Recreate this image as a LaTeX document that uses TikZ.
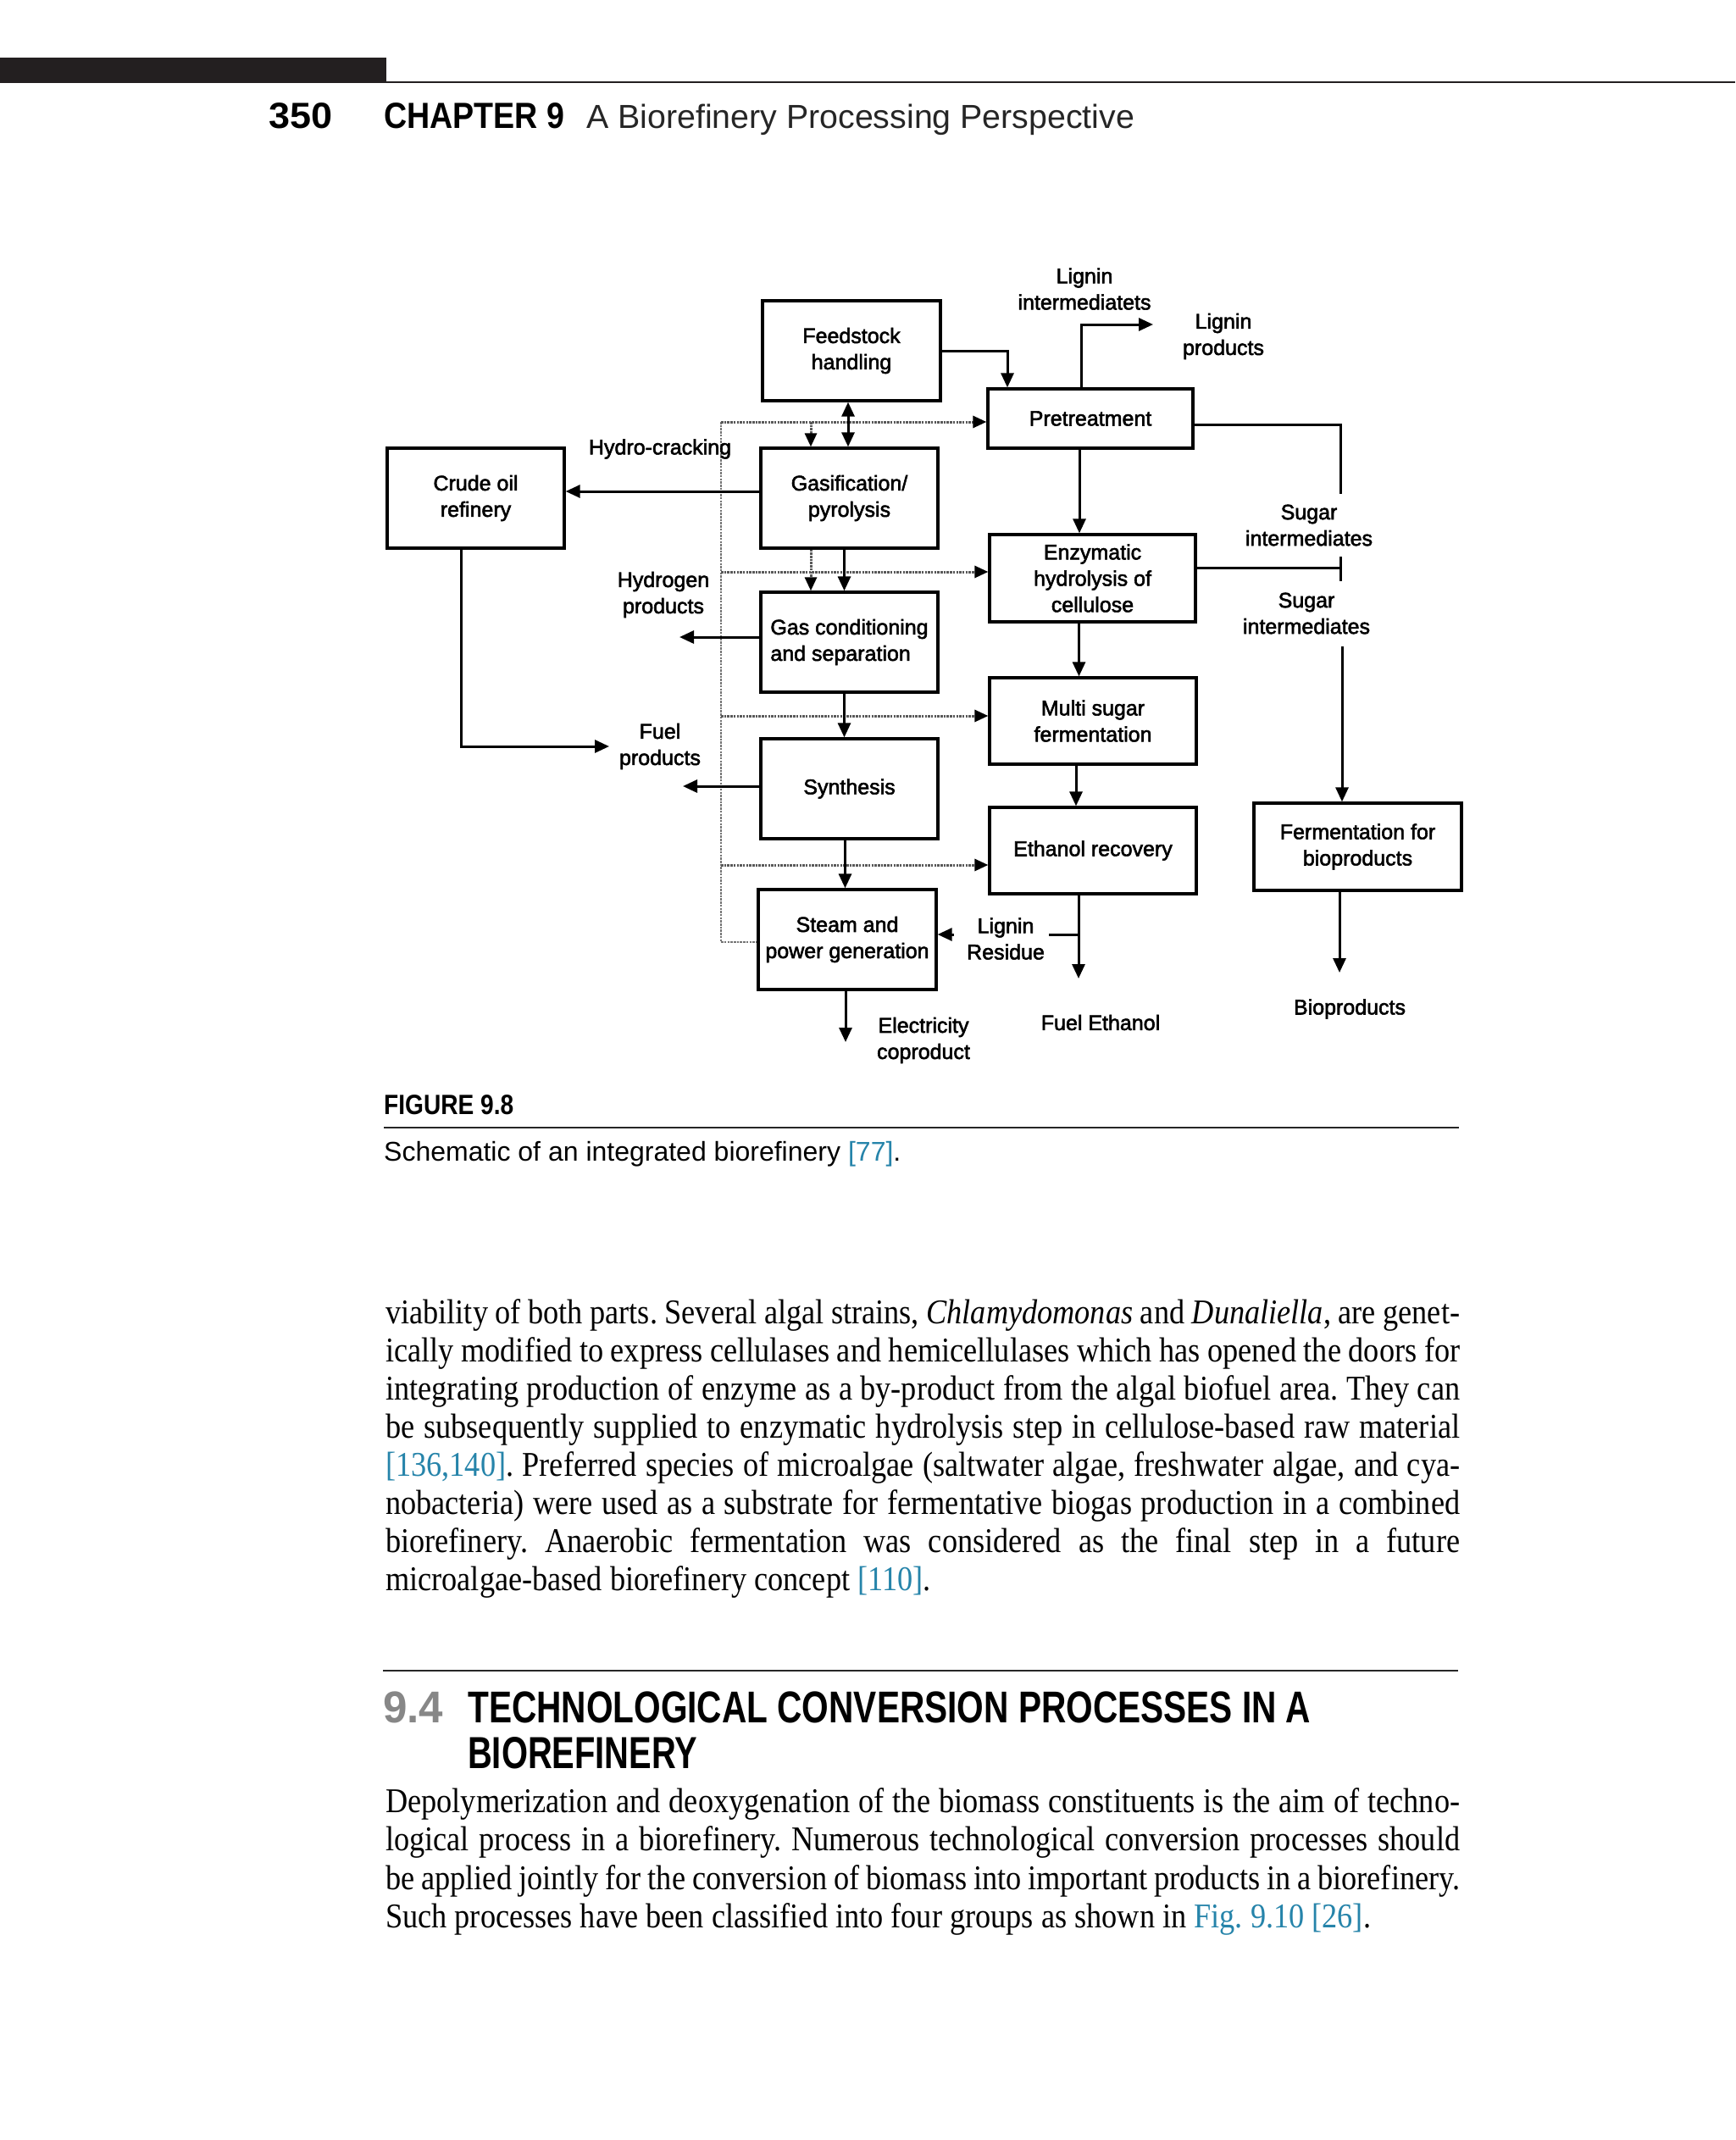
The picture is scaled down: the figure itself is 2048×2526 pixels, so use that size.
\documentclass[tikz,border=0pt]{standalone}
\usepackage{graphicx}
\usepackage{fontspec}
\setmainfont{Liberation Serif}
\setsansfont{Liberation Sans}
\newfontfamily\bodyfont[FakeStretch=0.885]{Liberation Serif}
\newfontfamily\dsans[FakeBold=2.2]{Liberation Sans}
\usetikzlibrary{arrows.meta,calc}
\definecolor{refblue}{RGB}{38,132,170}
\definecolor{inkbar}{RGB}{35,31,32}
\newcommand{\dfont}{\dsans\fontsize{25}{31}\selectfont}
\newcommand{\bfont}{\bodyfont\frenchspacing\fontsize{41}{45}\selectfont}
\newcommand{\jline}[1]{\makebox[1268pt][s]{#1}}
\begin{document}
\begin{tikzpicture}[x=1pt,y=-1pt,
  box/.style={draw, line width=3.3pt, rectangle, inner sep=0pt, align=center, font=\dfont},
  lbl/.style={align=center, font=\dfont, inner sep=0pt},
  arr/.style={line width=3pt, -{Triangle[length=17pt,width=15pt]}},
  darr/.style={line width=3pt, {Triangle[length=17pt,width=15pt]}-{Triangle[length=17pt,width=15pt]}},
  plain/.style={line width=3pt},
  util/.style={draw=black!65, line width=3pt, dash pattern=on 2.5pt off 1.2pt},
  utilv/.style={draw=black!55, line width=2.2pt, dash pattern=on 2.5pt off 1.2pt},
  utilarr/.style={util, -{Triangle[length=16pt,width=14pt,color=black]}},
  txt/.style={anchor=base west, inner sep=0pt, font=\bfont},
]
\useasboundingbox (0,0) rectangle (2048,2526);
\fill[white] (0,0) rectangle (2048,2526);

% running header
\fill[inkbar] (0,68) rectangle (456,98);
\draw[inkbar, line width=2.5pt] (456,97) -- (2048,97);
\node[anchor=base west, inner sep=0pt] (pg) at (317,152) {\resizebox{75pt}{30pt}{\sffamily\bfseries 350}};
\node[anchor=base west, inner sep=0pt] (ch) at (453,152) {\resizebox{213pt}{30pt}{\sffamily\bfseries CHAPTER 9}};
\node[anchor=base west, inner sep=0pt, text=black!85] (ttl) at (692,152) {\resizebox{647pt}{!}{\sffamily\fontsize{37}{37}\selectfont A Biorefinery Processing Perspective}};

% boxes
\node[box, minimum width=210pt, minimum height=118pt] (feed) at (1005,414) {Feedstock\\handling};
\node[box, minimum width=209pt, minimum height=118pt] (crude) at (561.5,588) {Crude oil\\refinery};
\node[box, minimum width=209pt, minimum height=118pt] (gasif) at (1002.5,588) {Gasification/\\pyrolysis};
\node[box, minimum width=209pt, minimum height=118pt, align=left] (gascond) at (1002.5,758) {Gas conditioning\\and separation};
\node[box, minimum width=209pt, minimum height=118pt] (synth) at (1002.5,931) {Synthesis};
\node[box, minimum width=210pt, minimum height=118pt] (steam) at (1000,1109) {Steam and\\power generation};
\node[box, minimum width=242pt, minimum height=70pt] (pre) at (1287,494) {Pretreatment};
\node[box, minimum width=243pt, minimum height=103pt] (enz) at (1289.5,682.5) {Enzymatic\\hydrolysis of\\cellulose};
\node[box, minimum width=244pt, minimum height=102pt] (multi) at (1290,851) {Multi sugar\\fermentation};
\node[box, minimum width=244pt, minimum height=102pt] (eth) at (1290,1004) {Ethanol recovery};
\node[box, minimum width=245pt, minimum height=103pt] (ferm) at (1602.5,999.5) {Fermentation for\\bioproducts};

% utility (dotted) network
\coordinate (u1) at (851,498);
\coordinate (u2) at (851,675);
\coordinate (u3) at (851,845);
\coordinate (u4) at (851,1021);
\coordinate (u5) at (851,1112);
\coordinate (g1) at (957,498);
\draw[utilv] (u1) -- (u5) -- (u5 -| steam.west);
\draw[utilarr] (u1) -- (u1 -| pre.west);
\draw[utilarr] (u2) -- (u2 -| enz.west);
\draw[utilarr] (u3) -- (u3 -| multi.west);
\draw[utilarr] (u4) -- (u4 -| eth.west);
\draw[utilarr] (g1) -- (g1 |- gasif.north);
\draw[utilarr] (g1 |- gasif.south) -- (g1 |- gascond.north);

% left column connectors
\draw[darr] ([xshift=-4pt]feed.south) -- ([xshift=-4pt]feed.south |- gasif.north);
\draw[arr] ([xshift=-6pt]gasif.south) -- ([xshift=-6pt]gasif.south |- gascond.north);
\draw[arr] ([xshift=-6pt]gascond.south) -- ([xshift=-6pt]gascond.south |- synth.north);
\draw[arr] ([xshift=-5pt]synth.south) -- ([xshift=-5pt]synth.south |- steam.north);
\coordinate (elec) at (998,1230);
\draw[arr] (elec |- steam.south) -- (elec);
\draw[arr] ([yshift=8pt]gasif.west) -- ([yshift=8pt]gasif.west -| crude.east);
\coordinate (h2) at (802,752);
\draw[arr] (h2 -| gascond.west) -- (h2);
\coordinate (fp) at (806,928);
\draw[arr] (fp -| synth.west) -- (fp);
\coordinate (cf) at (719,881);
\draw[arr] ([xshift=-17.5pt]crude.south) |- (cf);

% right column connectors
\draw[arr] (feed.east) -| ([xshift=-98pt]pre.north);
\coordinate (lg) at (1361,383);
\draw[arr] ([xshift=-11pt]pre.north) |- (lg);
\coordinate (s1) at (1582,583);
\draw[plain] ([yshift=-7pt]pre.east) -| (s1);
\coordinate (s2) at (1582,670);
\draw[plain] (s2 -| enz.east) -- (s2);
\draw[plain] ([yshift=13pt]s2) -- ([yshift=-16pt]s2);
\coordinate (s3) at (1584,763);
\draw[arr] (s3) -- (s3 |- ferm.north);
\coordinate (bp) at (1581,1148);
\draw[arr] (bp |- ferm.south) -- (bp);
\draw[arr] ([xshift=-13pt]pre.south) -- ([xshift=-13pt]pre.south |- enz.north);
\draw[arr] ([xshift=-16pt]enz.south) -- ([xshift=-16pt]enz.south |- multi.north);
\draw[arr] ([xshift=-20pt]multi.south) -- ([xshift=-20pt]multi.south |- eth.north);
\coordinate (fe) at (1273,1155);
\draw[arr] (fe |- eth.south) -- (fe);
\coordinate (lr) at (1238,1103);
\draw[plain] (lr) -- (lr -| fe);
\coordinate (lr2) at (1126,1103);
\draw[arr] (lr2) -- (lr2 -| steam.east);

% labels
\node[lbl] (ligint) at (1280,341) {Lignin\\intermediatets};
\node[lbl] (ligprod) at (1444,397) {Lignin\\products};
\node[lbl] (hydro) at (779,530) {Hydro-cracking};
\node[lbl] (h2lbl) at (783,702) {Hydrogen\\products};
\node[lbl] (fuellbl) at (779,881) {Fuel\\products};
\node[lbl] (sug1) at (1545,620) {Sugar\\intermediates};
\node[lbl] (sug2) at (1542,724) {Sugar\\intermediates};
\node[lbl] (ligres) at (1187,1108) {Lignin\\Residue};
\node[lbl] (eleclbl) at (1090,1228) {Electricity\\coproduct};
\node[lbl] (fueleth) at (1299,1207) {Fuel Ethanol};
\node[lbl] (bioprod) at (1593,1191) {Bioproducts};

% caption
\node[anchor=base west, inner sep=0pt] (figno) at (453,1315) {\resizebox{153pt}{23pt}{\sffamily\bfseries FIGURE 9.8}};
\draw[line width=2pt, black!85] (453,1331) -- (1722,1331);
\node[anchor=base west, inner sep=0pt, font=\sffamily\fontsize{32}{38}\selectfont] (cap) at (453,1370) {Schematic of an integrated biorefinery \textcolor{refblue}{[77]}.};

% paragraph 1
\node[txt] (b1) at (455,1562) {\jline{viability of both parts. Several algal strains, \textit{Chlamydomonas} and \textit{Dunaliella}, are genet-}};
\node[txt] (b2) at (455,1607) {\jline{ically modified to express cellulases and hemicellulases which has opened the doors for}};
\node[txt] (b3) at (455,1652) {\jline{integrating production of enzyme as a by-product from the algal biofuel area. They can}};
\node[txt] (b4) at (455,1697) {\jline{be subsequently supplied to enzymatic hydrolysis step in cellulose-based raw material}};
\node[txt] (b5) at (455,1742) {\jline{\textcolor{refblue}{[136,140]}. Preferred species of microalgae (saltwater algae, freshwater algae, and cya-}};
\node[txt] (b6) at (455,1787) {\jline{nobacteria) were used as a substrate for fermentative biogas production in a combined}};
\node[txt] (b7) at (455,1832) {\jline{biorefinery. Anaerobic fermentation was considered as the final step in a future}};
\node[txt] (b8) at (455,1877) {microalgae-based biorefinery concept \textcolor{refblue}{[110]}.};

% section heading
\draw[line width=2.7pt, black!85] (452,1972) -- (1721,1972);
\node[anchor=base west, inner sep=0pt, text=black!47] (secno) at (452,2033) {\resizebox{71pt}{36.7pt}{\sffamily\bfseries 9.4}};
\node[anchor=base west, inner sep=0pt] (sec1) at (552,2033) {\resizebox{995pt}{36.7pt}{\sffamily\bfseries TECHNOLOGICAL CONVERSION PROCESSES IN A}};
\node[anchor=base west, inner sep=0pt] (sec2) at (552,2087) {\resizebox{271pt}{37pt}{\sffamily\bfseries BIOREFINERY}};

% paragraph 2
\node[txt] (c1) at (455,2139) {\jline{Depolymerization and deoxygenation of the biomass constituents is the aim of techno-}};
\node[txt] (c2) at (455,2184.5) {\jline{logical process in a biorefinery. Numerous technological conversion processes should}};
\node[txt] (c3) at (455,2230) {\jline{be applied jointly for the conversion of biomass into important products in a biorefinery.}};
\node[txt] (c4) at (455,2275.5) {Such processes have been classified into four groups as shown in \textcolor{refblue}{Fig. 9.10 [26]}.};
\end{tikzpicture}
\end{document}
